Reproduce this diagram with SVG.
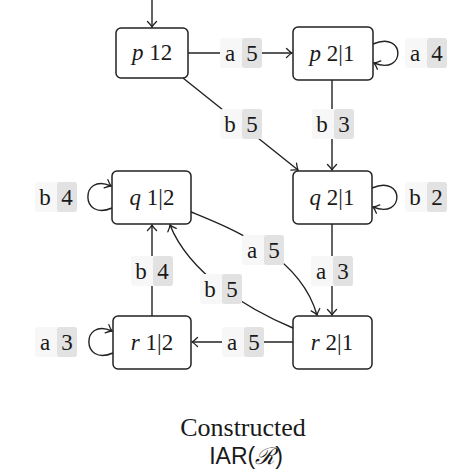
<svg xmlns="http://www.w3.org/2000/svg" width="474" height="474" viewBox="0 0 474 474">
<defs>
<marker id="arr" viewBox="-7 -6 8 12" refX="0" refY="0" markerWidth="8" markerHeight="12" markerUnits="userSpaceOnUse" orient="auto">
<path d="M-5.5,-4.5 Q-2,-1 0,0 Q-2,1 -5.5,4.5" fill="none" stroke="#222" stroke-width="1.3" stroke-linecap="round"/>
</marker>
</defs>
<style>
.node{fill:#fff;stroke:#222;stroke-width:1.5}
.nt{font-family:"Liberation Serif",serif;font-size:23px;fill:#1a1a1a;text-anchor:middle}
.e{fill:none;stroke:#222;stroke-width:1.4;marker-end:url(#arr)}
.lb{fill:#f7f7f7}
.lg{fill:#e2e2e2}
.lt{font-family:"Liberation Serif",serif;font-size:23px;fill:#1a1a1a;text-anchor:middle}
.cap{font-family:"Liberation Serif",serif;font-size:26px;fill:#1a1a1a;text-anchor:middle}
.cap2{font-family:"Liberation Sans",sans-serif;font-size:23px;fill:#1a1a1a;text-anchor:middle}
</style>
<rect width="474" height="474" fill="#fff"/>
<g id="connectors">
<path class="e" d="M152,0 L152,27"/>
<path class="e" d="M188,53 L292,53"/>
<path class="e" d="M373,44 C406,30 406,76 374,63"/>
<path class="e" d="M332,80 L332,170"/>
<path class="e" d="M183,78 L298,170"/>
<path class="e" d="M372,188 C405,174 405,220 373,207"/>
<path class="e" d="M112,208 C80,222 80,172 111,186"/>
<path class="e" d="M332,224 L332,315"/>
<path class="e" d="M191,212 C230,228 300,255 317,315"/>
<path class="e" d="M293,328 C250,310 190,275 170,225"/>
<path class="e" d="M152,316 L152,225"/>
<path class="e" d="M293,342 L192,342"/>
<path class="e" d="M113,353 C81,367 81,317 112,331"/>
</g>
<g id="labels">
<g id="l1"><rect class="lb" x="220" y="38" width="42" height="30" rx="3"/><rect class="lg" x="242" y="38" width="20" height="30" rx="3"/><text class="lt" x="230" y="61">a</text><text class="lt" x="252" y="61">5</text></g>
<g id="l2"><rect class="lb" x="405" y="38" width="42" height="30" rx="3"/><rect class="lg" x="427" y="38" width="20" height="30" rx="3"/><text class="lt" x="415" y="61">a</text><text class="lt" x="437" y="61">4</text></g>
<g id="l3"><rect class="lb" x="312" y="109" width="42" height="30" rx="3"/><rect class="lg" x="334" y="109" width="20" height="30" rx="3"/><text class="lt" x="322" y="132">b</text><text class="lt" x="344" y="132">3</text></g>
<g id="l4"><rect class="lb" x="220" y="109" width="42" height="30" rx="3"/><rect class="lg" x="242" y="109" width="20" height="30" rx="3"/><text class="lt" x="230" y="132">b</text><text class="lt" x="252" y="132">5</text></g>
<g id="l5"><rect class="lb" x="405" y="182" width="42" height="30" rx="3"/><rect class="lg" x="427" y="182" width="20" height="30" rx="3"/><text class="lt" x="415" y="205">b</text><text class="lt" x="437" y="205">2</text></g>
<g id="l6"><rect class="lb" x="35" y="182" width="42" height="30" rx="3"/><rect class="lg" x="57" y="182" width="20" height="30" rx="3"/><text class="lt" x="45" y="205">b</text><text class="lt" x="67" y="205">4</text></g>
<g id="l7"><rect class="lb" x="311" y="256" width="42" height="30" rx="3"/><rect class="lg" x="333" y="256" width="20" height="30" rx="3"/><text class="lt" x="321" y="279">a</text><text class="lt" x="343" y="279">3</text></g>
<g id="l8"><rect class="lb" x="242" y="235" width="42" height="30" rx="3"/><rect class="lg" x="264" y="235" width="20" height="30" rx="3"/><text class="lt" x="252" y="258">a</text><text class="lt" x="274" y="258">5</text></g>
<g id="l9"><rect class="lb" x="200" y="274" width="42" height="30" rx="3"/><rect class="lg" x="222" y="274" width="20" height="30" rx="3"/><text class="lt" x="210" y="297">b</text><text class="lt" x="232" y="297">5</text></g>
<g id="l10"><rect class="lb" x="131" y="256" width="42" height="30" rx="3"/><rect class="lg" x="153" y="256" width="20" height="30" rx="3"/><text class="lt" x="141" y="279">b</text><text class="lt" x="163" y="279">4</text></g>
<g id="l11"><rect class="lb" x="222" y="327" width="42" height="30" rx="3"/><rect class="lg" x="244" y="327" width="20" height="30" rx="3"/><text class="lt" x="232" y="350">a</text><text class="lt" x="254" y="350">5</text></g>
<g id="l12"><rect class="lb" x="35" y="327" width="42" height="30" rx="3"/><rect class="lg" x="57" y="327" width="20" height="30" rx="3"/><text class="lt" x="45" y="350">a</text><text class="lt" x="67" y="350">3</text></g>
</g>
<g id="p12"><rect class="node" x="116" y="28" width="72" height="50" rx="5"/><text class="nt" x="152" y="60"><tspan font-style="italic">p</tspan> 12</text></g>
<g id="p21"><rect class="node" x="293" y="27" width="80" height="53" rx="5"/><text class="nt" x="332" y="61"><tspan font-style="italic">p</tspan> 2|1</text></g>
<g id="q12"><rect class="node" x="112" y="171" width="79" height="53" rx="5"/><text class="nt" x="152" y="205"><tspan font-style="italic">q</tspan> 1|2</text></g>
<g id="q21"><rect class="node" x="293" y="171" width="79" height="53" rx="5"/><text class="nt" x="332" y="205"><tspan font-style="italic">q</tspan> 2|1</text></g>
<g id="r12"><rect class="node" x="113" y="316" width="78" height="53" rx="5"/><text class="nt" x="152" y="350"><tspan font-style="italic">r</tspan> 1|2</text></g>
<g id="r21"><rect class="node" x="293" y="316" width="79" height="53" rx="5"/><text class="nt" x="332" y="350"><tspan font-style="italic">r</tspan> 2|1</text></g>
<g id="caption">
<text class="cap" x="243" y="436">Constructed</text>
<text class="cap2" x="246" y="464">IAR(<tspan font-family="DejaVu Serif, serif" font-style="italic">ℛ</tspan>)</text>
</g>
</svg>
